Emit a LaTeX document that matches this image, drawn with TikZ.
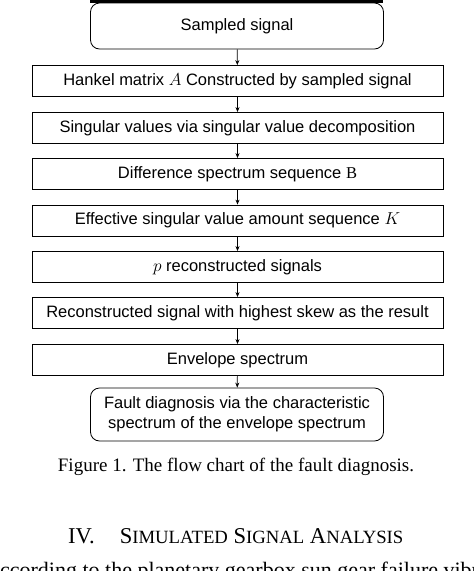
\documentclass[tikz,border=0pt]{standalone}
\usepackage{fontspec}
\setmainfont{Liberation Serif}
\setsansfont{Liberation Sans}
\usetikzlibrary{arrows.meta}

\begin{document}
\begin{tikzpicture}[
        x = 1pt, y = -1pt,
        box/.style = {draw, rectangle, line width=0.8pt, minimum width=411pt, minimum height=31pt, inner sep=0pt, font=\sffamily\fontsize{16.5}{20}\selectfont},
        endbox/.style = {draw, rectangle, rounded corners=9pt, line width=0.8pt, minimum width=293pt, inner sep=0pt, align=center, font=\sffamily\fontsize{16.5}{20}\selectfont},
        arrow/.style = {-{Stealth[length=5pt, width=4pt]}, line width=0.7pt}
    ]
    \useasboundingbox (0,0) rectangle (474,571);
    \clip (0,0) rectangle (474,571);

    % edge of the box above, cut off by the page
    \fill (90,0) rectangle (383,2.5);

    % start and end of the chart
    \node[endbox, minimum height=46pt] (sampled) at (237,26) {Sampled signal};
    \node[endbox, minimum height=53pt] (fault) at (237,414.5) {Fault diagnosis via the characteristic\\spectrum of the envelope spectrum};

    % steps in between
    \node[box] (hankel) at (237.5,81) {Hankel matrix $A$ Constructed by sampled signal};
    \node[box] (svd) at (237.5,128) {Singular values via singular value decomposition};
    \node[box] (diff) at (237.5,174) {Difference spectrum sequence $\mathrm{B}$};
    \node[box] (eff) at (237.5,220.5) {Effective singular value amount sequence $K$};
    \node[box] (recsig) at (237.5,267) {$p$ reconstructed signals};
    \node[box] (skew) at (237.5,313) {Reconstructed signal with highest skew as the result};
    \node[box] (env) at (237.5,360) {Envelope spectrum};

    % Draw arrows
    \draw[arrow] (sampled) -- (hankel);
    \draw[arrow] (hankel) -- (svd);
    \draw[arrow] (svd) -- (diff);
    \draw[arrow] (diff) -- (eff);
    \draw[arrow] (eff) -- (recsig);
    \draw[arrow] (recsig) -- (skew);
    \draw[arrow] (skew) -- (env);
    \draw[arrow] (env) -- (fault);

    % caption and the text below it
    \node[font=\fontsize{19}{22}\selectfont] (caption) at (236,467) {Figure 1. The flow chart of the fault diagnosis.};
    \node[font=\fontsize{22.6}{26}\selectfont, anchor=base west, inner sep=0pt] (heading) at (68,543) {IV.\hspace{25pt}S{\fontsize{18.7}{20}\selectfont IMULATED} S{\fontsize{18.7}{20}\selectfont IGNAL} A{\fontsize{18.7}{20}\selectfont NALYSIS}};
    \node[font=\fontsize{22}{26}\selectfont, anchor=base west, inner sep=0pt] (bodytext) at (-16,577) {According to the planetary gearbox sun gear failure vibration};

\end{tikzpicture}
\end{document}
